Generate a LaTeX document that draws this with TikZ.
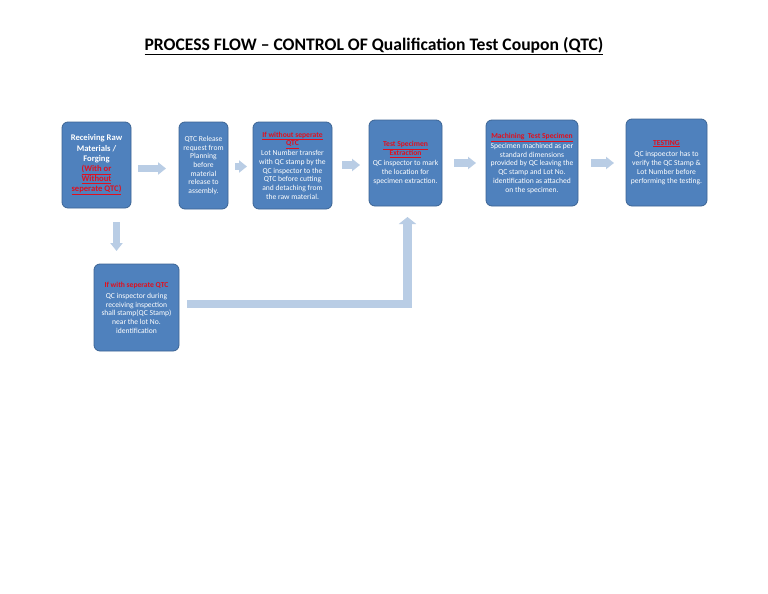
\documentclass[tikz,border=0pt]{standalone}
\usepackage{fontspec}
\setmainfont{Carlito}
\usetikzlibrary{arrows.meta}
\definecolor{boxblue}{HTML}{4F81BD}
\definecolor{boxedge}{HTML}{3C6494}
\definecolor{arrowblue}{HTML}{B9CDE5}
\definecolor{qred}{HTML}{E0101E}
\newcommand\redhd[1]{\mbox{\color{qred}\bfseries\underline{#1}}}
\newcommand\redplain[1]{\mbox{\color{qred}\bfseries #1}}
\begin{document}
\begin{tikzpicture}[x=1pt,y=-1pt,
  procbox/.style={draw=boxedge, line width=0.8pt, fill=boxblue, rounded corners=6pt,
    text=white, align=center, inner sep=0pt, outer sep=0pt,
    font=\fontsize{7.6}{8.7}\selectfont},
  flow/.style={draw=arrowblue, line width=7.6pt, line join=miter,
    -{Triangle[width=12pt,length=8pt]}}]
\useasboundingbox (0,0) rectangle (768,594);
\fill[white] (0,0) rectangle (768,594);

\node[anchor=base] (title) at (374,50.5)
  {\fontsize{17.6}{20}\selectfont\bfseries\underline{PROCESS FLOW – CONTROL OF Qualification Test Coupon (QTC)}};

\node[procbox, minimum width=69pt, minimum height=86pt, font=\fontsize{8.6}{10.2}\selectfont\bfseries] (b1) at (96.5,165)
  {Receiving Raw\\Materials /\\Forging\\
   \redhd{(With or}\\\redhd{Without}\\\redhd{seperate QTC)}};

\node[procbox, minimum width=49pt, minimum height=87pt] (b2) at (203.5,165.5)
  {QTC Release\\request from\\Planning\\before\\material\\release to\\assembly.};

\node[procbox, minimum width=79pt, minimum height=87pt] (b3) at (292.5,165.5)
  {\redhd{I\kern0ptf without seperate}\\\redhd{QTC}\\[1.2pt]
   Lot Number transfer\\with QC stamp by the\\QC inspector to the\\QTC before cutting\\and detaching from\\the raw material.};

\node[procbox, minimum width=73pt, minimum height=86pt, font=\fontsize{7.6}{9.4}\selectfont] (b4) at (405.5,163)
  {\redhd{Test Specimen}\\\redhd{Extraction}\\
   QC inspector to mark\\the location for\\specimen extraction.};

\node[procbox, minimum width=92pt, minimum height=86pt] (b5) at (532,163)
  {\redhd{Machining\ \ Test Specimen}\\[1.8pt]
   Specimen machined as per\\standard dimensions\\provided by QC leaving the\\QC stamp and Lot No.\\identification as attached\\on the specimen.};

\node[procbox, minimum width=81pt, minimum height=87pt, font=\fontsize{7.6}{9}\selectfont] (b6) at (666.5,162.5)
  {\redhd{TESTING}\\[2.5pt]
   QC inspoector has to\\verify the QC Stamp \&\\Lot Number before\\performing the testing.};

\node[procbox, minimum width=85pt, minimum height=87pt] (b7) at (136.5,307.5)
  {\redplain{I\kern0ptf with seperate QTC}\\[2.5pt]
   QC inspector during\\receiving inspection\\shall stamp(QC Stamp)\\near the lot No.\\identification};

\draw[flow, shorten <=7pt, shorten >=13pt] ([yshift=-3.5pt]b1.east) -- ([yshift=-3.5pt]b1.east -| b2.west);
\draw[flow, shorten <=7pt, shorten >=6pt] ([yshift=-1pt]b2.east) -- ([yshift=-1pt]b2.east -| b3.west);
\draw[flow, shorten <=10pt, shorten >=9pt] ([yshift=0.5pt]b3.east) -- ([yshift=0.5pt]b3.east -| b4.west);
\draw[flow, shorten <=12pt, shorten >=10pt] (b4.east) -- (b4.east -| b5.west);
\draw[flow, shorten <=13pt, shorten >=12pt] (b5.east) -- (b5.east -| b6.west);
\draw[flow, shorten <=14pt, shorten >=13pt] ([xshift=20pt]b1.south) -- ([xshift=20pt]b1.south |- b7.north);
\draw[flow, line width=8.5pt, -{Triangle[width=17pt,length=7pt]}, shorten <=8pt, shorten >=11pt]
  ([yshift=3.5pt]b7.east) -| ([xshift=2pt]b4.south);
\end{tikzpicture}
\end{document}
